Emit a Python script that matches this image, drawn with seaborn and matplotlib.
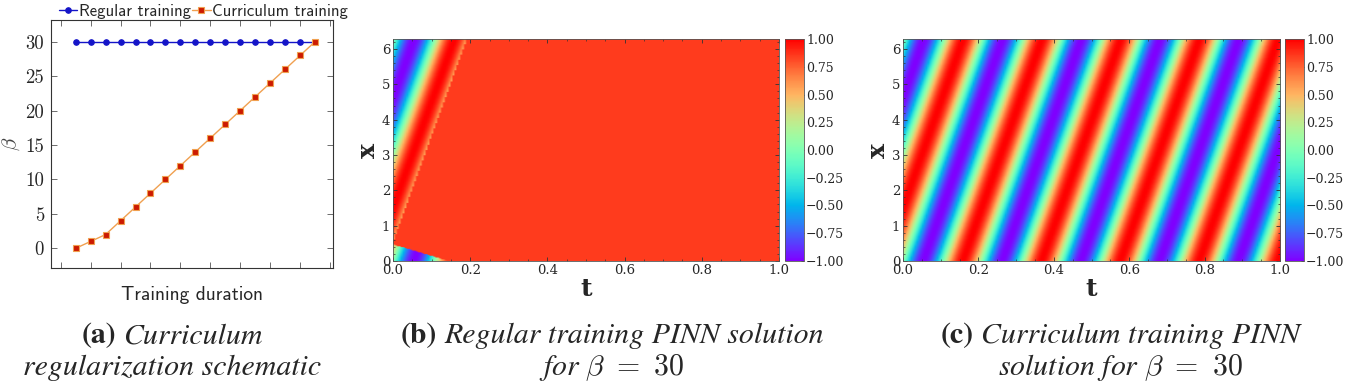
import numpy as np
import matplotlib
matplotlib.use("Agg")
import matplotlib.pyplot as plt
from matplotlib.ticker import AutoMinorLocator
import seaborn as sns

# Panel (a): beta schedule over training
steps = list(range(1, 18))
regular_beta = [30] * 17
curriculum_beta = [0, 1, 2, 4, 6, 8, 10, 12, 14, 16, 18, 20, 22, 24, 26, 28, 30]

# Panels (b), (c): convection solution u = sin(x - beta t)
beta = 30
t_vals = np.linspace(0, 1, 201)
x_vals = np.linspace(0, 2 * np.pi, 256)
plateau_value = 0.85      # value the failed PINN collapses to
front_offset = 0.6        # characteristic beyond which the PINN fails
corner_height = 0.45
corner_width = 0.14

cbar_ticks = [-1.0, -0.75, -0.5, -0.25, 0.0, 0.25, 0.5, 0.75, 1.0]
t_ticks = [0.0, 0.2, 0.4, 0.6, 0.8, 1.0]
x_ticks = [0, 1, 2, 3, 4, 5, 6]

sns.set_style("ticks")
plt.rcParams["font.family"] = ["DejaVu Serif"]
plt.rcParams["axes.unicode_minus"] = True

W, H = 1346, 383
fig = plt.figure(figsize=(W / 100, H / 100), dpi=100)


def px_axes(l, t, r, b):
    return fig.add_axes([l / W, 1 - b / H, (r - l) / W, (b - t) / H])


# ---- (a) curriculum schematic ----
ax_a = px_axes(51, 20, 333, 268)
sns.lineplot(x=steps, y=regular_beta, ax=ax_a, color="#1414c8", marker="o",
             markersize=4, markeredgecolor="#1414c8", linewidth=1.0,
             label="Regular training")
sns.lineplot(x=steps, y=curriculum_beta, ax=ax_a, color="#f0a050", marker="s",
             markersize=4, markerfacecolor="#cc1a00", markeredgecolor="#f0a050",
             markeredgewidth=0.8, linewidth=1.0, label="Curriculum training")
ax_a.set_xlim(-0.65, 18.2)
ax_a.set_ylim(-2.86, 33.15)
ax_a.set_xticks(range(0, 19, 2))
ax_a.set_xticklabels([])
ax_a.set_yticks(range(0, 31, 5))
ax_a.set_yticklabels([str(v) for v in range(0, 31, 5)], fontfamily="cmr10", fontsize=13.5)
ax_a.tick_params(direction="in", length=4, width=0.6, color="#555555",
                 top=True, right=True, pad=5)
for sp in ax_a.spines.values():
    sp.set_linewidth(0.8)
    sp.set_color("#333333")
ax_a.set_xlabel("Training duration", fontfamily="cmss10", fontsize=14, labelpad=8)
ax_a.set_ylabel(r"$\beta$", math_fontfamily="cm", fontsize=15, color="#444444", labelpad=2)
ax_a.legend(loc="lower center", bbox_to_anchor=(0.54, 1.0), ncol=2, frameon=False,
            prop={"family": "cmss10", "size": 12}, handlelength=1.1,
            handletextpad=0.1, columnspacing=0.1, borderaxespad=0.0,
            borderpad=0.05)

# ---- fields ----
T, X = np.meshgrid(t_vals, x_vals)
exact = np.sin(X - beta * T)
front = (X - beta * T) > front_offset
corner = X < corner_height * (1 - T / corner_width)
field_regular = np.where(front | corner, exact, plateau_value)
field_curriculum = exact


def field_panel(l, r, cl, cr, field):
    ax = px_axes(l, 39, r, 261)
    im = ax.imshow(field, extent=[0, 1, 0, 2 * np.pi], origin="lower", aspect="auto",
                   cmap="rainbow", vmin=-1, vmax=1, interpolation="bilinear")
    ax.set_xticks(t_ticks)
    ax.set_xticklabels([f"{v:.1f}" for v in t_ticks])
    ax.set_yticks(x_ticks)
    ax.xaxis.set_minor_locator(AutoMinorLocator(4))
    ax.yaxis.set_minor_locator(AutoMinorLocator(5))
    ax.tick_params(which="both", direction="in", top=True, right=True,
                   labelsize=9.5, color="#333333", pad=2)
    ax.tick_params(which="major", length=3, width=0.6)
    ax.tick_params(which="minor", length=1.5, width=0.5)
    for sp in ax.spines.values():
        sp.set_linewidth(0.6)
        sp.set_color("#555555")
    ax.set_xlabel("t", fontweight="bold", fontsize=18, labelpad=0)
    ax.set_ylabel("x", fontweight="bold", fontsize=18, labelpad=1)

    cax = px_axes(cl, 39, cr, 261)
    cb = fig.colorbar(im, cax=cax, ticks=cbar_ticks)
    cb.ax.set_yticklabels([f"{v:.2f}".replace("-", "\u2212") for v in cbar_ticks])
    cb.ax.tick_params(labelsize=9, length=2, width=0.5, direction="in", pad=1.5)
    cb.outline.set_linewidth(0.6)
    cb.outline.set_edgecolor("#555555")
    return ax


field_panel(393, 779, 785, 804, field_regular)
field_panel(903, 1280, 1285, 1304, field_curriculum)

# ---- captions ----
renderer = fig.canvas.get_renderer()
cap_size = 21.5


def caption(cx, base_y, parts):
    gap = 0.25 * cap_size * 100 / 72
    items = []
    for s, kw in parts:
        txt = fig.text(0, 1 - base_y / H, s, fontsize=cap_size, family="STIXGeneral",
                       math_fontfamily="cm", va="baseline", ha="left", **kw)
        items.append((txt, txt.get_window_extent(renderer).width))
    total = sum(w for _, w in items) + gap * (len(items) - 1)
    x = cx - total / 2
    for txt, w in items:
        txt.set_x(x / W)
        x += w + gap


bold = {"fontweight": "bold"}
ital = {"fontstyle": "italic"}
caption(172, 343, [("(a)", bold), ("Curriculum", ital)])
caption(172, 375, [("regularization schematic", ital)])
caption(612, 343, [("(b)", bold), ("Regular training PINN solution", ital)])
caption(612, 375, [(r"for $\beta\ =\ 30$", ital)])
caption(1120, 343, [("(c)", bold), ("Curriculum training PINN", ital)])
caption(1120, 375, [(r"solution for $\beta\ =\ 30$", ital)])

fig.savefig("out.png", dpi=100)
